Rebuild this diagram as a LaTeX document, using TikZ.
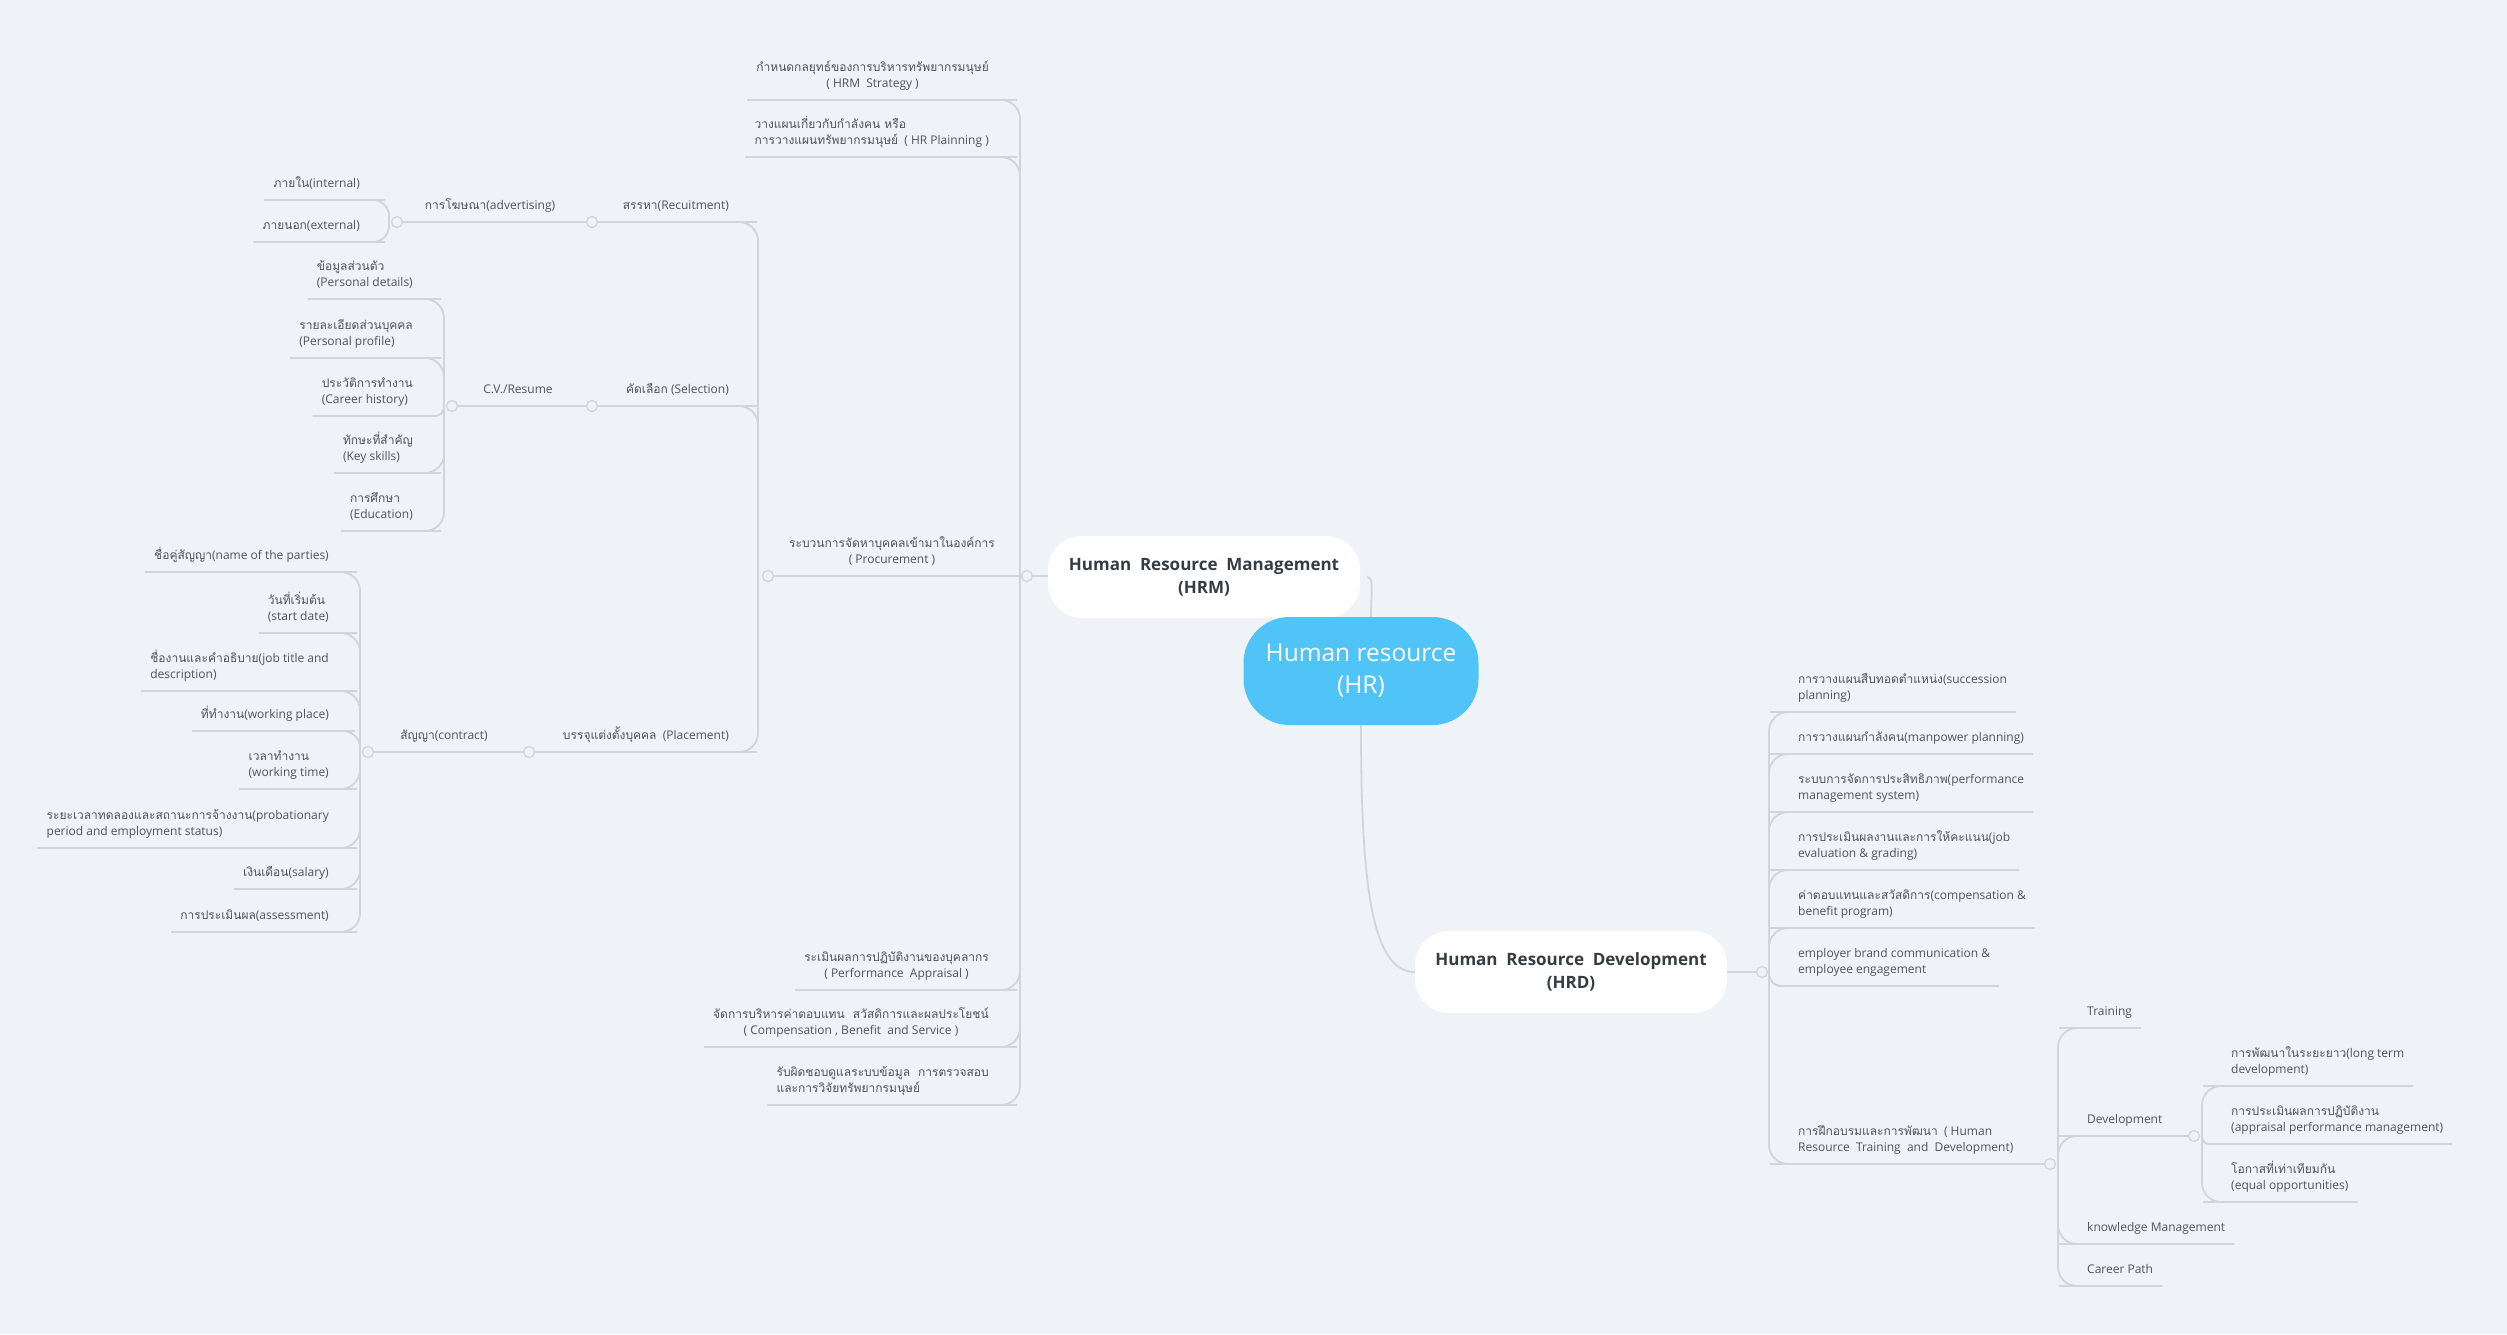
\documentclass[tikz,border=0pt]{standalone}
\usepackage{fontspec}
\usepackage{tikz}
\usetikzlibrary{backgrounds}
\setmainfont{Open Sans}
\newfontfamily\thaifont[Script=Thai]{Loma}
\newcommand\tha[1]{{\thaifont #1}}
\newcommand\leaffont{\fontsize{12}{16}\selectfont}
\definecolor{bggray}{RGB}{239,243,247}
\definecolor{linegray}{RGB}{208,213,218}
\definecolor{textgray}{RGB}{78,84,90}
\definecolor{topicgray}{RGB}{52,60,68}
\definecolor{hrblue}{RGB}{80,195,247}

\begin{document}
\begin{tikzpicture}[x=1pt,y=-1pt,
    root/.style={rectangle,rounded corners=46pt,fill=hrblue,text=white,minimum width=235pt,minimum height=108pt,align=center,font=\fontsize{24.5}{32}\selectfont},
    topic/.style={rectangle,rounded corners=34pt,fill=white,text=topicgray,minimum width=312pt,minimum height=82pt,align=center,font=\bfseries\fontsize{17}{23}\selectfont},
    leaf/.style={inner xsep=9pt,inner ysep=8pt,text=textgray,font=\leaffont,align=left,execute at end node=\strut},
    joint/.style={circle,draw=linegray,fill=bggray,line width=1.3pt,minimum size=11pt,inner sep=0pt},
    branch/.style={draw=linegray,line width=1.8pt,rounded corners=19pt},
    link/.style={draw=linegray,line width=1.8pt}
  ]
    \useasboundingbox (0,0) rectangle (2507,1334);

    \node[topic] (hrm) at (1204,577) {Human\ \ Resource\ \ Management\\(HRM)};
    \node[root] (hr) at (1361,671) {Human resource\\(HR)};
    \node[topic] (hrd) at (1571,972) {Human\ \ Resource\ \ Development\\(HRD)};

    \node[joint] (hrm-j) at (1027,576) {};
    \node[joint] (proc-j) at (768,576) {};
    \node[joint] (rec-j) at (592,222) {};
    \node[joint] (adv-j) at (397,222) {};
    \node[joint] (sel-j) at (592,406) {};
    \node[joint] (cv-j) at (452,406) {};
    \node[joint] (plc-j) at (529,752) {};
    \node[joint] (con-j) at (368,752) {};
    \node[joint] (hrd-j) at (1762,972) {};
    \node[joint] (trd-j) at (2050,1164) {};
    \node[joint] (dev-j) at (2194,1136) {};

    \node[leaf,align=center,anchor=south east] (strat) at (998,100) {\tha{กำหนดกลยุทธ์ของการบริหารทรัพยากรมนุษย์}\\( HRM\ \ Strategy )};
    \node[leaf,anchor=south east] (plan) at (998,157) {\tha{วางแผนเกี่ยวกับกำลังคน หรือ}\\\tha{การวางแผนทรัพยากรมนุษย์}\ \ ( HR Plainning )};
    \node[leaf,align=center,anchor=south] (proc) at (892,576) {\tha{ระบวนการจัดหาบุคคลเข้ามาในองค์การ}\\( Procurement )};
    \node[leaf,align=center,anchor=south east] (appr) at (998,990) {\tha{ระเมินผลการปฏิบัติงานของบุคลากร}\\( Performance\ \ Appraisal )};
    \node[leaf,align=center,anchor=south east] (comp) at (998,1047) {\tha{จัดการบริหารค่าตอบแทน\ \ สวัสดิการและผลประโยชน์}\\( Compensation , Benefit\ \ and Service )};
    \node[leaf,anchor=south east] (res) at (998,1105) {\tha{รับผิดชอบดูแลระบบข้อมูล\ \ การตรวจสอบ}\\\tha{และการวิจัยทรัพยากรมนุษย์}};

    \node[leaf,anchor=south east] (rec) at (738,222) {\tha{สรรหา}(Recuitment)};
    \node[leaf,anchor=south east] (sel) at (738,406) {\tha{คัดเลือก} (Selection)};
    \node[leaf,anchor=south east] (plc) at (738,752) {\tha{บรรจุแต่งตั้งบุคคล}\ \ (Placement)};

    \node[leaf,anchor=south] (adv) at (490,222) {\tha{การโฆษณา}(advertising)};
    \node[leaf,anchor=south east] (int) at (369,200) {\tha{ภายใน}(internal)};
    \node[leaf,anchor=south east] (ext) at (369,242) {\tha{ภายนอก}(external)};

    \node[leaf,anchor=south] (cv) at (518,406) {C.V./Resume};
    \node[leaf,anchor=south east] (pd) at (422,299) {\tha{ข้อมูลส่วนตัว}\\(Personal details)};
    \node[leaf,anchor=south east] (pp) at (422,358) {\tha{รายละเอียดส่วนบุคคล}\\(Personal profile)};
    \node[leaf,anchor=south east] (ch) at (422,416) {\tha{ประวัติการทำงาน}\\(Career history)};
    \node[leaf,anchor=south east] (ks) at (422,473) {\tha{ทักษะที่สำคัญ}\\(Key skills)};
    \node[leaf,anchor=south east] (edu) at (422,531) {\tha{การศึกษา}\\(Education)};

    \node[leaf,anchor=south] (con) at (444,752) {\tha{สัญญา}(contract)};
    \node[leaf,anchor=south east] (np) at (338,572) {\tha{ชื่อคู่สัญญา}(name of the parties)};
    \node[leaf,anchor=south east] (sd) at (338,633) {\tha{วันที่เริ่มต้น}\\(start date)};
    \node[leaf,anchor=south east] (jt) at (338,691) {\tha{ชื่องานและคำอธิบาย}(job title and\\description)};
    \node[leaf,anchor=south east] (wp) at (338,731) {\tha{ที่ทำงาน}(working place)};
    \node[leaf,anchor=south east] (wt) at (338,789) {\tha{เวลาทำงาน}\\(working time)};
    \node[leaf,anchor=south east] (pr) at (338,848) {\tha{ระยะเวลาทดลองและสถานะการจ้างงาน}(probationary\\period and employment status)};
    \node[leaf,anchor=south east] (sal) at (338,889) {\tha{เงินเดือน}(salary)};
    \node[leaf,anchor=south east] (as) at (338,932) {\tha{การประเมินผล}(assessment)};

    \node[leaf,anchor=south west] (sp) at (1789,712) {\tha{การวางแผนสืบทอดตำแหน่ง}(succession\\planning)};
    \node[leaf,anchor=south west] (mp) at (1789,754) {\tha{การวางแผนกำลังคน}(manpower planning)};
    \node[leaf,anchor=south west] (pm) at (1789,812) {\tha{ระบบการจัดการประสิทธิภาพ}(performance\\management system)};
    \node[leaf,anchor=south west] (je) at (1789,870) {\tha{การประเมินผลงานและการให้คะแนน}(job\\evaluation \& grading)};
    \node[leaf,anchor=south west] (cb) at (1789,928) {\tha{ค่าตอบแทนและสวัสดิการ}(compensation \&\\benefit program)};
    \node[leaf,anchor=south west] (eb) at (1789,986) {employer brand communication \&\\employee engagement};
    \node[leaf,anchor=south west] (trd) at (1789,1164) {\tha{การฝึกอบรมและการพัฒนา}\ \ ( Human\\Resource\ \ Training\ \ and\ \ Development)};

    \node[leaf,anchor=south west] (tr) at (2078,1028) {Training};
    \node[leaf,anchor=south west] (dev) at (2078,1136) {Development};
    \node[leaf,anchor=south west] (km) at (2078,1244) {knowledge Management};
    \node[leaf,anchor=south west] (cp) at (2078,1286) {Career Path};

    \node[leaf,anchor=south west] (lt) at (2222,1086) {\tha{การพัฒนาในระยะยาว}(long term\\development)};
    \node[leaf,anchor=south west] (ap) at (2222,1144) {\tha{การประเมินผลการปฏิบัติงาน}\\(appraisal performance management)};
    \node[leaf,anchor=south west] (eo) at (2222,1202) {\tha{โอกาสที่เท่าเทียมกัน}\\(equal opportunities)};

    \begin{scope}[on background layer]
    \fill[bggray] (0,0) rectangle (2507,1334);
    \draw[link] ([xshift=10pt]hr.north) .. controls +(0,-26) and +(7,0) .. ([xshift=7pt]hrm.east);
    \draw[link] (hr.south) .. controls +(0,150) and +(-45,0) .. (hrd.west);
    \draw[branch] (hrm) -- (hrm-j);
    \draw[branch] (hrd) -- (hrd-j);

    \foreach \leafname in {strat,plan,appr,comp,res}
      \draw[branch] (hrm-j.center) ++(-7,0) |- (\leafname.south east) -- (\leafname.south west);
    \draw[branch] (hrm-j) -- (proc-j);
    \foreach \leafname in {rec,sel,plc}
      \draw[branch] (proc-j.center) ++(-10,0) |- (\leafname.south east) -- (\leafname-j);
    \draw[branch] (rec-j) -- (adv-j);
    \draw[branch] (sel-j) -- (cv-j);
    \draw[branch] (plc-j) -- (con-j);

    \foreach \leafname in {int,ext}
      \draw[branch,rounded corners=16pt] (adv-j.center) ++(-8,0) |- (\leafname.south east) -- (\leafname.south west);
    \foreach \leafname in {pd,pp,ks,edu}
      \draw[branch] (cv-j.center) ++(-8,0) |- (\leafname.south east) -- (\leafname.south west);
    \draw[branch,rounded corners=9pt] (cv-j.center) ++(-8,0) |- (ch.south east) -- (ch.south west);
    \foreach \leafname in {np,sd,jt,wt,pr,sal,as}
      \draw[branch] (con-j.center) ++(-8,0) |- (\leafname.south east) -- (\leafname.south west);
    \draw[branch,rounded corners=17pt] (con-j.center) ++(-8,0) |- (wp.south east) -- (wp.south west);

    \foreach \leafname in {sp,mp,pm,je,cb}
      \draw[branch] (hrd-j.center) ++(7,0) |- (\leafname.south west) -- (\leafname.south east);
    \draw[branch,rounded corners=12pt] (hrd-j.center) ++(7,0) |- (eb.south west) -- (eb.south east);
    \draw[branch] (hrd-j.center) ++(7,0) |- (trd.south west) -- (trd-j);
    \foreach \leafname in {tr,km,cp}
      \draw[branch] (trd-j.center) ++(8,0) |- (\leafname.south west) -- (\leafname.south east);
    \draw[branch] (trd-j.center) ++(8,0) |- (dev.south west) -- (dev-j);
    \foreach \leafname in {lt,eo}
      \draw[branch] (dev-j.center) ++(8,0) |- (\leafname.south west) -- (\leafname.south east);
    \draw[branch,rounded corners=7pt] (dev-j.center) ++(8,0) |- (ap.south west) -- (ap.south east);
    \end{scope}
  \end{tikzpicture}
\end{document}
